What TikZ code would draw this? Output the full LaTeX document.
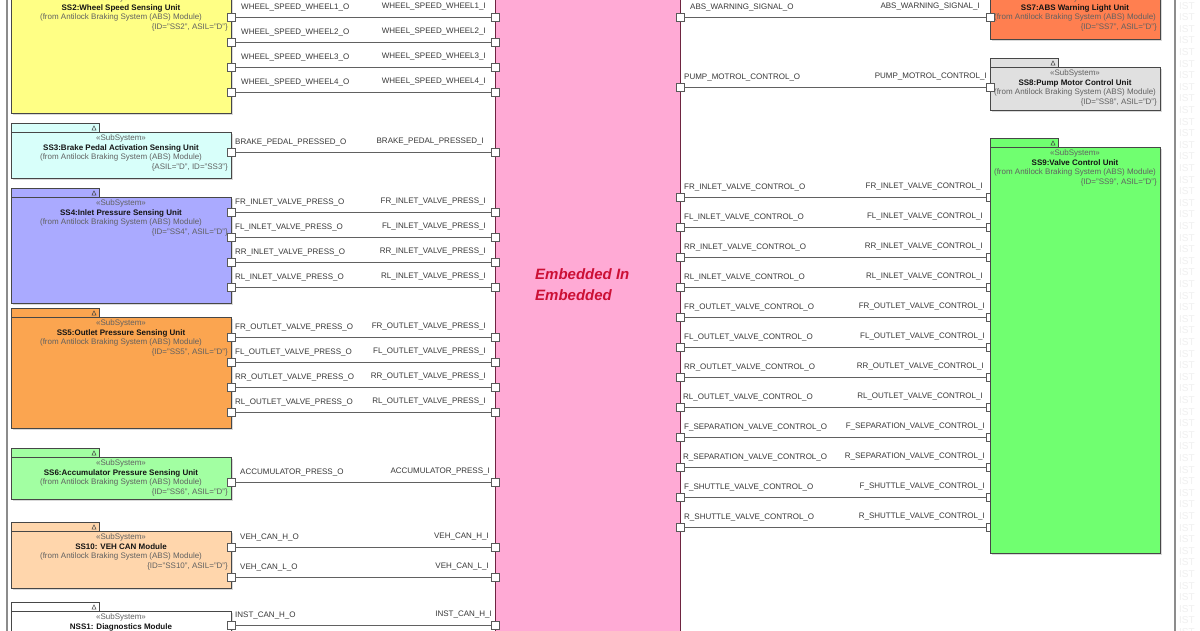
\documentclass[tikz,border=0pt]{standalone}
\usepackage{fontspec}
\setmainfont{Liberation Sans}
\usetikzlibrary{shadows}
\definecolor{cYel}{HTML}{FFFF85}
\definecolor{cCyan}{HTML}{D8FFFA}
\definecolor{cBlue}{HTML}{AAAAFF}
\definecolor{cOrange}{HTML}{FBA550}
\definecolor{cLGreen}{HTML}{A2FFA2}
\definecolor{cPeach}{HTML}{FFD6AC}
\definecolor{cCoral}{HTML}{FF7F50}
\definecolor{cGray}{HTML}{E0E0E0}
\definecolor{cGreen}{HTML}{70FF70}
\definecolor{cPink}{HTML}{FFAAD5}
\definecolor{pinkEdge}{HTML}{6E2440}
\definecolor{embRed}{HTML}{CC1035}
\tikzset{
  boxst/.style={draw=black!72, line width=0.7pt, inner sep=0pt, outer sep=0pt},
  shad/.style={drop shadow={shadow xshift=1.5pt, shadow yshift=-1.5pt, fill=black, opacity=0.15}},
  port/.style={draw=black!65, fill=white, line width=0.6pt, minimum size=8pt, inner sep=0pt, outer sep=0pt},
  conn/.style={draw=black!62, line width=0.8pt},
  lbl/.style={font=\fontsize{8}{9}\selectfont, text=black!78, inner sep=0pt},
  stereo/.style={font=\fontsize{8}{9}\selectfont, text=black!62, inner sep=0pt},
  ttl/.style={font=\fontsize{8}{9}\selectfont\bfseries, text=black!92, inner sep=0pt},
  frm/.style={font=\fontsize{8}{9}\selectfont, text=black!62, inner sep=0pt},
  icon/.style={draw=black!75, line width=0.5pt},
  framest/.style={draw=black!45, line width=1.3pt},
  embblock/.style={draw=pinkEdge, fill=cPink, line width=0.8pt, inner sep=0pt, outer sep=0pt},
  embst/.style={font=\fontsize{15}{18}\selectfont\bfseries\itshape, text=embRed, inner sep=0pt},
  wm/.style={font=\fontsize{10}{10}\selectfont, text=black!6, inner sep=0pt},
}
% #1 name, #2 x left, #3 top, #4 height, #5 width, #6 tab width, #7 fill, #8 title, #9 id
\newcommand{\subsys}[9]{%
  \node[boxst, shad, fill=#7, minimum width=#5pt, minimum height=#4pt, anchor=north west] (#1) at (#2,#3) {};
  \node[boxst, fill=#7, minimum width=#6pt, minimum height=8.5pt, anchor=south west] (#1tab) at (#1.north west) {};
  \draw[icon] ([xshift=-7pt,yshift=-2.3pt]#1tab.east) -- ++(2pt,4.2pt) -- ++(2pt,-4.2pt) -- cycle;
  \node[stereo, anchor=base] (#1s) at ([yshift=-8.9pt]#1.north) {«SubSystem»};
  \node[ttl, anchor=base] (#1n) at ([yshift=-18.4pt]#1.north) {#8};
  \node[frm, anchor=base] (#1f) at ([yshift=-27.9pt]#1.north) {(from Antilock Braking System (ABS) Module)};
  \node[frm, anchor=base east] (#1i) at ([xshift=-3pt,yshift=-37.4pt]#1.north east) {#9};
}
% #1 name, #2 y, #3 out label, #4 in label, #5 out x, #6 in end x
\newcommand{\lconn}[6]{%
  \node[port] (#1a) at (231,#2) {};
  \node[port] (#1b) at (495,#2) {};
  \draw[conn] (#1a) -- (#1b);
  \node[lbl, anchor=base west] (#1o) at (#5,#2-7.5) {#3};
  \node[lbl, anchor=base east] (#1i) at (#6,#2-8.5) {#4};
}
\newcommand{\rconn}[6]{%
  \node[port] (#1a) at (680,#2) {};
  \node[port] (#1b) at (990,#2) {};
  \draw[conn] (#1a) -- (#1b);
  \node[lbl, anchor=base west] (#1o) at (#5,#2-7.5) {#3};
  \node[lbl, anchor=base east] (#1i) at (#6,#2-8.5) {#4};
}
\begin{document}
\begin{tikzpicture}[x=1pt,y=-1pt]
\useasboundingbox (0,0) rectangle (1200,630);
\begin{scope}
\clip (0,0) rectangle (1200,630);
\fill[white] (0,0) rectangle (1200,630);
% watermark column
\foreach \k in {0,...,54} { \node[wm, anchor=base west] (wm\k) at (1179, {9+\k*11.6}) {IST}; }
% frame lines
\draw[framest] (7,-5) -- (7,640);
\draw[framest] (1175,-5) -- (1175,640);
% central block
\node[embblock, minimum width=185pt, minimum height=700pt, anchor=north west] (emb) at (495,-30) {};
\node[embst, anchor=base west] (embA) at (535,279.5) {Embedded In};
\node[embst, anchor=base west] (embB) at (535,300.5) {Embedded};
% left subsystems
\subsys{ssii}{11}{-8}{121}{220}{88}{cYel}{SS2:Wheel Speed Sensing Unit}{\{ID="SS2", ASIL="D"\}}
\subsys{ssiii}{11}{132}{46}{220}{88}{cCyan}{SS3:Brake Pedal Activation Sensing Unit}{\{ASIL="D", ID="SS3"\}}
\subsys{ssiv}{11}{197}{106}{220}{88}{cBlue}{SS4:Inlet Pressure Sensing Unit}{\{ID="SS4", ASIL="D"\}}
\subsys{ssv}{11}{317}{111}{220}{88}{cOrange}{SS5:Outlet Pressure Sensing Unit}{\{ID="SS5", ASIL="D"\}}
\subsys{ssvi}{11}{457}{42}{220}{88}{cLGreen}{SS6:Accumulator Pressure Sensing Unit}{\{ID="SS6", ASIL="D"\}}
\subsys{ssx}{11}{531}{57}{220}{88}{cPeach}{SS10: VEH CAN Module}{\{ID="SS10", ASIL="D"\}}
% NSS1 (cut by the bottom edge)
\node[boxst, shad, fill=white, minimum width=220pt, minimum height=60pt, anchor=north west] (nss) at (11,611) {};
\node[boxst, fill=white, minimum width=88pt, minimum height=8.5pt, anchor=south west] (nsstab) at (nss.north west) {};
\draw[icon] ([xshift=-7pt,yshift=-2.3pt]nsstab.east) -- ++(2pt,4.2pt) -- ++(2pt,-4.2pt) -- cycle;
\node[stereo, anchor=base] (nsss) at ([yshift=-8.9pt]nss.north) {«SubSystem»};
\node[ttl, anchor=base] (nssn) at ([yshift=-18.4pt]nss.north) {NSS1: Diagnostics Module};
% left connectors
\lconn{wa}{17}{WHEEL\_SPEED\_WHEEL1\_O}{WHEEL\_SPEED\_WHEEL1\_I}{241}{486}
\lconn{wb}{42}{WHEEL\_SPEED\_WHEEL2\_O}{WHEEL\_SPEED\_WHEEL2\_I}{241}{486}
\lconn{wc}{67}{WHEEL\_SPEED\_WHEEL3\_O}{WHEEL\_SPEED\_WHEEL3\_I}{241}{486}
\lconn{wd}{92}{WHEEL\_SPEED\_WHEEL4\_O}{WHEEL\_SPEED\_WHEEL4\_I}{241}{486}
\lconn{bp}{152}{BRAKE\_PEDAL\_PRESSED\_O}{BRAKE\_PEDAL\_PRESSED\_I}{235}{484}
\lconn{ia}{212}{FR\_INLET\_VALVE\_PRESS\_O}{FR\_INLET\_VALVE\_PRESS\_I}{235}{486}
\lconn{ib}{237}{FL\_INLET\_VALVE\_PRESS\_O}{FL\_INLET\_VALVE\_PRESS\_I}{235}{486}
\lconn{ic}{262}{RR\_INLET\_VALVE\_PRESS\_O}{RR\_INLET\_VALVE\_PRESS\_I}{235}{486}
\lconn{id}{287}{RL\_INLET\_VALVE\_PRESS\_O}{RL\_INLET\_VALVE\_PRESS\_I}{235}{486}
\lconn{oa}{337}{FR\_OUTLET\_VALVE\_PRESS\_O}{FR\_OUTLET\_VALVE\_PRESS\_I}{235}{486}
\lconn{ob}{362}{FL\_OUTLET\_VALVE\_PRESS\_O}{FL\_OUTLET\_VALVE\_PRESS\_I}{235}{486}
\lconn{oc}{387}{RR\_OUTLET\_VALVE\_PRESS\_O}{RR\_OUTLET\_VALVE\_PRESS\_I}{235}{486}
\lconn{od}{412}{RL\_OUTLET\_VALVE\_PRESS\_O}{RL\_OUTLET\_VALVE\_PRESS\_I}{235}{486}
\lconn{ac}{482}{ACCUMULATOR\_PRESS\_O}{ACCUMULATOR\_PRESS\_I}{240}{490}
\lconn{vh}{547}{VEH\_CAN\_H\_O}{VEH\_CAN\_H\_I}{240}{489}
\lconn{vl}{577}{VEH\_CAN\_L\_O}{VEH\_CAN\_L\_I}{240}{489}
\lconn{ih}{625}{INST\_CAN\_H\_O}{INST\_CAN\_H\_I}{235}{492}
% right subsystems
\subsys{ssvii}{990}{-8}{47}{170}{68}{cCoral}{SS7:ABS Warning Light Unit}{\{ID="SS7", ASIL="D"\}}
\subsys{ssviii}{990}{67}{43}{170}{68}{cGray}{SS8:Pump Motor Control Unit}{\{ID="SS8", ASIL="D"\}}
% right connectors
\rconn{aw}{17}{ABS\_WARNING\_SIGNAL\_O}{ABS\_WARNING\_SIGNAL\_I}{690}{980}
\rconn{pm}{87}{PUMP\_MOTROL\_CONTROL\_O}{PUMP\_MOTROL\_CONTROL\_I}{684}{987}
\rconn{ca}{197}{FR\_INLET\_VALVE\_CONTROL\_O}{FR\_INLET\_VALVE\_CONTROL\_I}{684}{983}
\rconn{cb}{227}{FL\_INLET\_VALVE\_CONTROL\_O}{FL\_INLET\_VALVE\_CONTROL\_I}{684}{983}
\rconn{cc}{257}{RR\_INLET\_VALVE\_CONTROL\_O}{RR\_INLET\_VALVE\_CONTROL\_I}{684}{983}
\rconn{cd}{287}{RL\_INLET\_VALVE\_CONTROL\_O}{RL\_INLET\_VALVE\_CONTROL\_I}{684}{983}
\rconn{ce}{317}{FR\_OUTLET\_VALVE\_CONTROL\_O}{FR\_OUTLET\_VALVE\_CONTROL\_I}{684}{985}
\rconn{cf}{347}{FL\_OUTLET\_VALVE\_CONTROL\_O}{FL\_OUTLET\_VALVE\_CONTROL\_I}{684}{985}
\rconn{cg}{377}{RR\_OUTLET\_VALVE\_CONTROL\_O}{RR\_OUTLET\_VALVE\_CONTROL\_I}{684}{984}
\rconn{ch}{407}{RL\_OUTLET\_VALVE\_CONTROL\_O}{RL\_OUTLET\_VALVE\_CONTROL\_I}{683}{983}
\rconn{ci}{437}{F\_SEPARATION\_VALVE\_CONTROL\_O}{F\_SEPARATION\_VALVE\_CONTROL\_I}{684}{985}
\rconn{cj}{467}{R\_SEPARATION\_VALVE\_CONTROL\_O}{R\_SEPARATION\_VALVE\_CONTROL\_I}{683}{985}
\rconn{ck}{497}{F\_SHUTTLE\_VALVE\_CONTROL\_O}{F\_SHUTTLE\_VALVE\_CONTROL\_I}{684}{985}
\rconn{cl}{527}{R\_SHUTTLE\_VALVE\_CONTROL\_O}{R\_SHUTTLE\_VALVE\_CONTROL\_I}{684}{985}
% SS9 drawn over its ports
\subsys{ssix}{990}{147}{406}{170}{68}{cGreen}{SS9:Valve Control Unit}{\{ID="SS9", ASIL="D"\}}
\end{scope}
\end{tikzpicture}
\end{document}
